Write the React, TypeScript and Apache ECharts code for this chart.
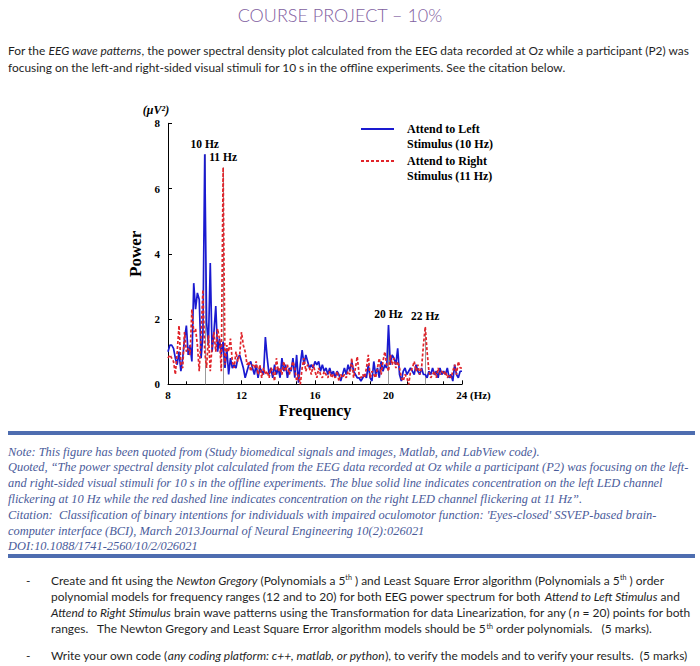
import React, { useEffect, useRef } from 'react';
import * as echarts from 'echarts';

// Spectrum bins: 8.0 Hz to 24.0 Hz, 0.1 Hz resolution (10 s recording)
const freqStart = 8;
const freqStep = 0.1;

// Power (µV²) — Attend to Left Stimulus (10 Hz), blue solid
const leftPower = [
  1.0, 1.2, 1.2, 1.1, 0.8, 0.6, 1.0, 0.4, 0.8, 1.4, // 8.x
  1.8, 0.9, 1.2, 0.7, 3.1, 2.3, 2.8, 2.6, 0.8, 1.5, // 9.x
  7.05, 1.9, 1.2, 3.72, 1.0, 1.6, 2.4, 1.0, 1.4, 0.9, // 10.x
  1.3, 0.5, 1.1, 0.3, 0.8, 0.5, 0.6, 0.5, 0.8, 0.9, // 11.x
  0.7, 0.5, 0.2, 0.4, 0.6, 0.7, 0.5, 0.3, 0.6, 0.2, // 12.x
  0.5, 0.4, 0.3, 1.45, 0.8, 0.3, 0.5, 0.2, 0.6, 0.3, // 13.x
  0.5, 0.2, 0.8, 0.4, 0.6, 0.2, 0.5, 0.4, 0.8, 0.2, // 14.x
  0.9, 0.05, 0.6, 1.05, 0.6, 0.9, 0.7, 0.5, 0.6, 0.5, // 15.x
  0.7, 0.6, 0.7, 0.4, 0.6, 0.4, 0.5, 0.3, 0.5, 0.3, // 16.x
  0.4, 0.2, 0.4, 0.3, 0.1, 0.3, 0.5, 0.3, 0.6, 0.4, // 17.x
  0.7, 0.4, 0.3, 0.2, 0.2, 0.1, 0.2, 0.3, 0.2, 0.6, // 18.x
  0.2, 0.1, 0.7, 0.3, 0.5, 0.2, 0.7, 0.4, 0.6, 0.5, // 19.x
  1.82, 0.6, 0.9, 0.8, 0.6, 1.1, 0.3, 0.1, 0.4, 0.5, // 20.x
  0.3, 0.4, 0.5, 0.4, 0.3, 0.6, 0.4, 0.3, 0.5, 0.3, // 21.x
  0.3, 0.2, 0.4, 0.3, 0.5, 0.3, 0.4, 0.2, 0.5, 0.3, // 22.x
  0.4, 0.3, 0.5, 0.2, 0.3, 0.1, 0.6, 0.3, 0.2, 0.4, // 23.x
  0.4, // 24.0
];

// Power (µV²) — Attend to Right Stimulus (11 Hz), red dashed
const rightPower = [
  0.8, 0.9, 0.8, 0.7, 0.3, 1.0, 1.8, 0.6, 0.5, 1.6, // 8.x
  1.0, 1.1, 0.9, 2.3, 1.6, 1.7, 1.2, 0.4, 1.5, 2.9, // 9.x
  1.0, 0.5, 1.5, 0.4, 1.2, 1.6, 1.0, 1.7, 1.4, 0.4, // 10.x
  6.65, 0.6, 1.2, 1.0, 1.4, 0.7, 0.5, 1.0, 0.7, 0.9, // 11.x
  1.6, 1.2, 1.0, 0.6, 0.7, 0.4, 0.6, 0.5, 0.7, 0.3, // 12.x
  0.6, 0.2, 0.5, 0.3, 0.4, 0.2, 0.5, 0.4, 0.1, 0.8, // 13.x
  0.4, 0.5, 0.3, 0.7, 0.4, 0.6, 0.3, 0.5, 0.7, 0.5, // 14.x
  0.1, 0.3, 0.0, 0.5, 0.8, 0.4, 0.6, 0.5, 0.3, 0.6, // 15.x
  0.4, 0.2, 0.5, 0.3, 0.2, 0.4, 0.3, 0.2, 0.4, 0.2, // 16.x
  0.3, 0.2, 0.4, 0.1, 0.3, 0.2, 0.3, 0.2, 0.4, 0.3, // 17.x
  0.8, 0.2, 0.5, 0.85, 0.3, 0.2, 0.3, 0.2, 0.5, 0.9, // 18.x
  0.2, 0.4, 0.3, 0.2, 0.5, 0.8, 0.3, 0.7, 1.0, 0.6, // 19.x
  0.4, 0.9, 0.6, 0.8, 0.5, 0.7, 0.5, 0.2, 0.1, 0.3, // 20.x
  0.2, 0.0, 0.4, 0.5, 0.7, 0.4, 0.6, 0.3, 0.5, 1.2, // 21.x
  1.76, 1.0, 0.4, 0.2, 0.3, 0.4, 0.2, 0.5, 0.3, 0.4, // 22.x
  0.3, 0.4, 0.2, 0.3, 0.2, 0.4, 0.6, 0.3, 0.7, 0.5, // 23.x
  0.5, // 24.0
];

const seriesNames = ['Attend to Left\nStimulus (10 Hz)', 'Attend to Right\nStimulus (11 Hz)'];
const xMin = 8;
const xMax = 24;
const xInterval = 4;
const yMin = 0;
const yMax = 8;
const yInterval = 2;
const xUnit = '(Hz)';
const yUnit = '(μV²)';
const xName = 'Frequency';
const yName = 'Power';

// Labelled stimulus peaks: [series index, frequency, label]
const peakSeries = [0, 1, 0, 1];
const peakFreqs = [10, 11, 20, 22];
const peakLabels = ['10 Hz', '11 Hz', '20 Hz', '22 Hz'];

// Document text
const titleText = 'COURSE PROJECT – 10%';
const introLines = [
  'For the {i|EEG wave patterns}, the power spectral density plot calculated from the EEG data recorded at Oz while a participant (P2) was',
  'focusing on the left-and right-sided visual stimuli for 10 s in the offline experiments. See the citation below.',
];
const noteLines = [
  'Note: This figure has been quoted from (Study biomedical signals and images, Matlab, and LabView code).',
  'Quoted, “The power spectral density plot calculated from the EEG data recorded at Oz while a participant (P2) was focusing on the left-',
  'and right-sided visual stimuli for 10 s in the offline experiments. The blue solid line indicates concentration on the left LED channel',
  'flickering at 10 Hz while the red dashed line indicates concentration on the right LED channel flickering at 11 Hz”.',
  "Citation:  Classification of binary intentions for individuals with impaired oculomotor function: 'Eyes-closed' SSVEP-based brain-",
  'computer interface (BCI), March 2013Journal of Neural Engineering 10(2):026021',
  'DOI:10.1088/1741-2560/10/2/026021',
];
const bullet1Lines = [
  'Create and fit using the {i|Newton Gregory} (Polynomials a 5{s|th} ) and Least Square Error algorithm (Polynomials a 5{s|th} ) order',
  'polynomial models for frequency ranges (12 and to 20) for both EEG power spectrum for both {i|Attend to Left Stimulus} and',
  '{i|Attend to Right Stimulus} brain wave patterns using the Transformation for data Linearization, for any ({i|n} = 20) points for both',
  'ranges.   The Newton Gregory and Least Square Error algorithm models should be 5{s|th} order polynomials.   (5 marks).',
];
const bullet2Lines = [
  'Write your own code ({i|any coding platform: c++, matlab, or python}), to verify the models and to verify your results.  (5 marks)',
];

const serif = '"Liberation Serif", "Times New Roman", serif';
const sans = 'Lato, "Open Sans", "Noto Sans", sans-serif';

function toPairs(values: number[]) {
  return values.map((v, i) => [+(freqStart + i * freqStep).toFixed(1), v]);
}

function valueAt(values: number[], f: number) {
  return values[Math.round((f - freqStart) / freqStep)];
}

export default function App() {
  const ref = useRef<HTMLDivElement>(null);

  useEffect(() => {
    if (!ref.current) return;
    const chart = echarts.init(ref.current, undefined, { renderer: 'svg' });
    const allValues = [leftPower, rightPower];

    const markLinesFor = (s: number) =>
      peakFreqs
        .map((f, k) => ({ f, k }))
        .filter(({ k }) => peakSeries[k] === s)
        .map(({ f }) => [{ coord: [f, 0] }, { coord: [f, valueAt(allValues[s], f)] }]);

    const markPointsFor = (s: number) =>
      peakFreqs
        .map((f, k) => ({ f, k }))
        .filter(({ k }) => peakSeries[k] === s)
        .map(({ f, k }) => ({
          coord: [f, valueAt(allValues[s], f)],
          value: peakLabels[k],
        }));

    const docSize = 11.9;
    const bulletSize = 11.95;
    const ink = '#1f1f1f';
    const makeRich = (size: number) => ({
      i: { fontStyle: 'italic', fontFamily: sans, fontSize: size, fill: ink },
      s: { fontSize: size * 0.6, fontFamily: sans, verticalAlign: 'top', fill: ink },
    });

    const graphics: any[] = [];
    graphics.push({
      type: 'text',
      x: 340,
      y: 15,
      style: {
        text: titleText,
        fontFamily: sans,
        fontWeight: 300,
        fontSize: 18,
        fill: '#7f609f',
        align: 'center',
        verticalAlign: 'middle',
      },
    });
    introLines.forEach((t, i) => {
      graphics.push({
        type: 'text',
        x: 8,
        y: 50 + i * 17,
        style: { fontFamily: sans, fontSize: docSize, fill: ink, text: t, verticalAlign: 'middle', rich: makeRich(docSize) },
      });
    });
    graphics.push({ type: 'rect', shape: { x: 8, y: 431, width: 687, height: 4 }, style: { fill: '#4e6db0' } });
    noteLines.forEach((t, i) => {
      graphics.push({
        type: 'text',
        x: 8,
        y: 451.5 + i * 15.8,
        style: {
          text: t,
          fontFamily: serif,
          fontStyle: 'italic',
          fontSize: 12.4,
          fill: '#4a5b9a',
          verticalAlign: 'middle',
        },
      });
    });
    graphics.push({ type: 'rect', shape: { x: 8, y: 554, width: 687, height: 4 }, style: { fill: '#4e6db0' } });
    const bulletBlocks = [
      { lines: bullet1Lines, y: 580 },
      { lines: bullet2Lines, y: 655 },
    ];
    bulletBlocks.forEach((b) => {
      graphics.push({
        type: 'text',
        x: 26,
        y: b.y,
        style: { fontFamily: sans, fontSize: bulletSize, fill: ink, text: '-', verticalAlign: 'middle' },
      });
      b.lines.forEach((t, i) => {
        graphics.push({
          type: 'text',
          x: 51,
          y: b.y + i * 16.3,
          style: { fontFamily: sans, fontSize: bulletSize, fill: ink, text: t, verticalAlign: 'middle', rich: makeRich(bulletSize) },
        });
      });
    });
    graphics.push({
      type: 'text',
      x: 156,
      y: 110,
      style: {
        text: yUnit,
        fontFamily: serif,
        fontStyle: 'italic',
        fontWeight: 'bold',
        fontSize: 12,
        fill: '#000',
        align: 'center',
        verticalAlign: 'middle',
      },
    });

    const axisLabelStyle = { fontFamily: serif, fontWeight: 'bold' as const, fontSize: 11, color: '#000' };

    const lineColors = ['#1a1ad0', '#e0242a'];
    const lineTypes: any[] = ['solid', [3, 2]];

    chart.setOption({
      animation: false,
      backgroundColor: '#fff',
      grid: { left: 168, top: 123.3, width: 294, height: 261 },
      legend: {
        orient: 'vertical',
        left: 360,
        top: 106.5,
        padding: 0,
        itemGap: -13,
        itemWidth: 33,
        itemHeight: 14,
        itemStyle: { opacity: 0 },
        data: seriesNames,
        formatter: (name: string) => '\n' + name,
        textStyle: {
          fontFamily: serif,
          fontWeight: 'bold',
          fontSize: 12,
          lineHeight: 15,
          color: '#000',
          padding: [0, 0, 0, 8],
        },
      },
      xAxis: {
        type: 'value',
        min: xMin,
        max: xMax,
        interval: xInterval,
        name: xName,
        nameLocation: 'middle',
        nameGap: 18,
        nameTextStyle: { fontFamily: serif, fontWeight: 'bold', fontSize: 16, color: '#000', verticalAlign: 'top' },
        axisLine: { lineStyle: { color: '#000', width: 1 } },
        axisTick: { inside: true, length: 4, lineStyle: { color: '#000' } },
        minorTick: { show: true, splitNumber: 4, length: 3, lineStyle: { color: '#000' } },
        splitLine: { show: false },
        axisLabel: {
          ...axisLabelStyle,
          margin: 5,
          formatter: (v: number) => (v === xMax ? `{p|}${v}{h| ${xUnit}}` : String(v)),
          rich: {
            p: { width: 23 },
            h: { ...axisLabelStyle },
          },
        },
      },
      yAxis: {
        type: 'value',
        min: yMin,
        max: yMax,
        interval: yInterval,
        name: yName,
        nameLocation: 'middle',
        nameGap: 24,
        nameTextStyle: { fontFamily: serif, fontWeight: 'bold', fontSize: 17, color: '#000' },
        axisLine: { show: true, lineStyle: { color: '#000', width: 1 } },
        axisTick: { show: true, inside: true, length: 4, lineStyle: { color: '#000' } },
        splitLine: { show: false },
        axisLabel: { ...axisLabelStyle, margin: 8 },
      },
      graphic: graphics,
      series: [leftPower, rightPower].map((vals, s) => ({
        name: seriesNames[s],
        type: 'line',
        data: toPairs(vals),
        symbol: 'none',
        z: 3 + s,
        lineStyle: { color: lineColors[s], width: 1.7, type: lineTypes[s] },
        itemStyle: { color: lineColors[s] },
        markLine: {
          silent: true,
          symbol: 'none',
          z: 1,
          label: { show: false },
          lineStyle: { color: '#9a9a9a', width: 1, type: 'solid' },
          data: markLinesFor(s),
        },
        markPoint: {
          symbol: 'circle',
          symbolSize: 1,
          itemStyle: { color: 'rgba(0,0,0,0)' },
          label: {
            show: true,
            position: 'top',
            distance: 4,
            formatter: (p: any) => p.value,
            fontFamily: serif,
            fontWeight: 'bold',
            fontSize: 11.5,
            color: '#000',
          },
          data: markPointsFor(s),
        },
      })),
    });

    return () => chart.dispose();
  }, []);

  return (
    <div
      ref={ref}
      style={{ position: 'absolute', left: 0, top: 0, width: 700, height: 666, background: '#fff' }}
    />
  );
}
